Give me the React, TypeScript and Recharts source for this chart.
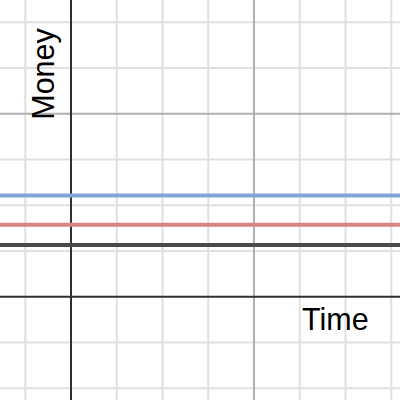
import React from "react";
import {
  ComposedChart,
  Line,
  XAxis,
  YAxis,
  CartesianGrid,
  ReferenceLine,
} from "recharts";

// one grid unit = one minor grid square
const times = [-2, 8];
const blueLevel = [2.21, 2.21];
const redLevel = [1.575, 1.575];
const blackLevel = [1.13, 1.13];

const minorX = [-1, 1, 2, 3, 5, 6, 7];
const majorX = [4];
const minorY = [-2, -1, 1, 2, 3, 5, 6];
const majorY = [4];

const xDomain = [-1.552, 7.191];
const yDomain = [-2.258, 6.485];

const data = times.map((t, i) => ({
  t,
  blue: blueLevel[i],
  red: redLevel[i],
  black: blackLevel[i],
}));

const FONT = "'Liberation Sans', Arial, sans-serif";

const App = () => {
  return (
    <div style={{ position: "fixed", left: 0, top: 0, background: "#fff" }}>
      <ComposedChart
        width={400}
        height={400}
        data={data}
        margin={{ top: 0, right: 0, left: 0, bottom: 0 }}
      >
        <XAxis
          dataKey="t"
          type="number"
          domain={xDomain}
          allowDataOverflow
          hide
        />
        <YAxis type="number" domain={yDomain} allowDataOverflow hide />
        <CartesianGrid
          verticalValues={minorX}
          horizontalValues={minorY}
          stroke="#e0e0e0"
          strokeWidth={2}
        />
        <CartesianGrid
          verticalValues={majorX}
          horizontalValues={majorY}
          stroke="#b0b0b0"
          strokeWidth={2}
        />
        <ReferenceLine x={0} stroke="#303030" strokeWidth={2} />
        <ReferenceLine
          y={0}
          stroke="#303030"
          strokeWidth={2}
          label={() => (
            <g>
              <text
                x={302}
                y={329.5}
                fontFamily={FONT}
                fontSize={30.5}
                fill="#000"
              >
                Time
              </text>
              <text
                x={54}
                y={74}
                fontFamily={FONT}
                fontSize={30.5}
                fill="#000"
                textAnchor="middle"
                transform="rotate(-90, 54, 74)"
              >
                Money
              </text>
            </g>
          )}
        />
        <Line
          dataKey="black"
          stroke="#4a4a4a"
          strokeWidth={4}
          dot={false}
          isAnimationActive={false}
        />
        <Line
          dataKey="red"
          stroke="#d88482"
          strokeWidth={4}
          dot={false}
          isAnimationActive={false}
        />
        <Line
          dataKey="blue"
          stroke="#7ea6d6"
          strokeWidth={4}
          dot={false}
          isAnimationActive={false}
        />
      </ComposedChart>
    </div>
  );
};

export default App;
